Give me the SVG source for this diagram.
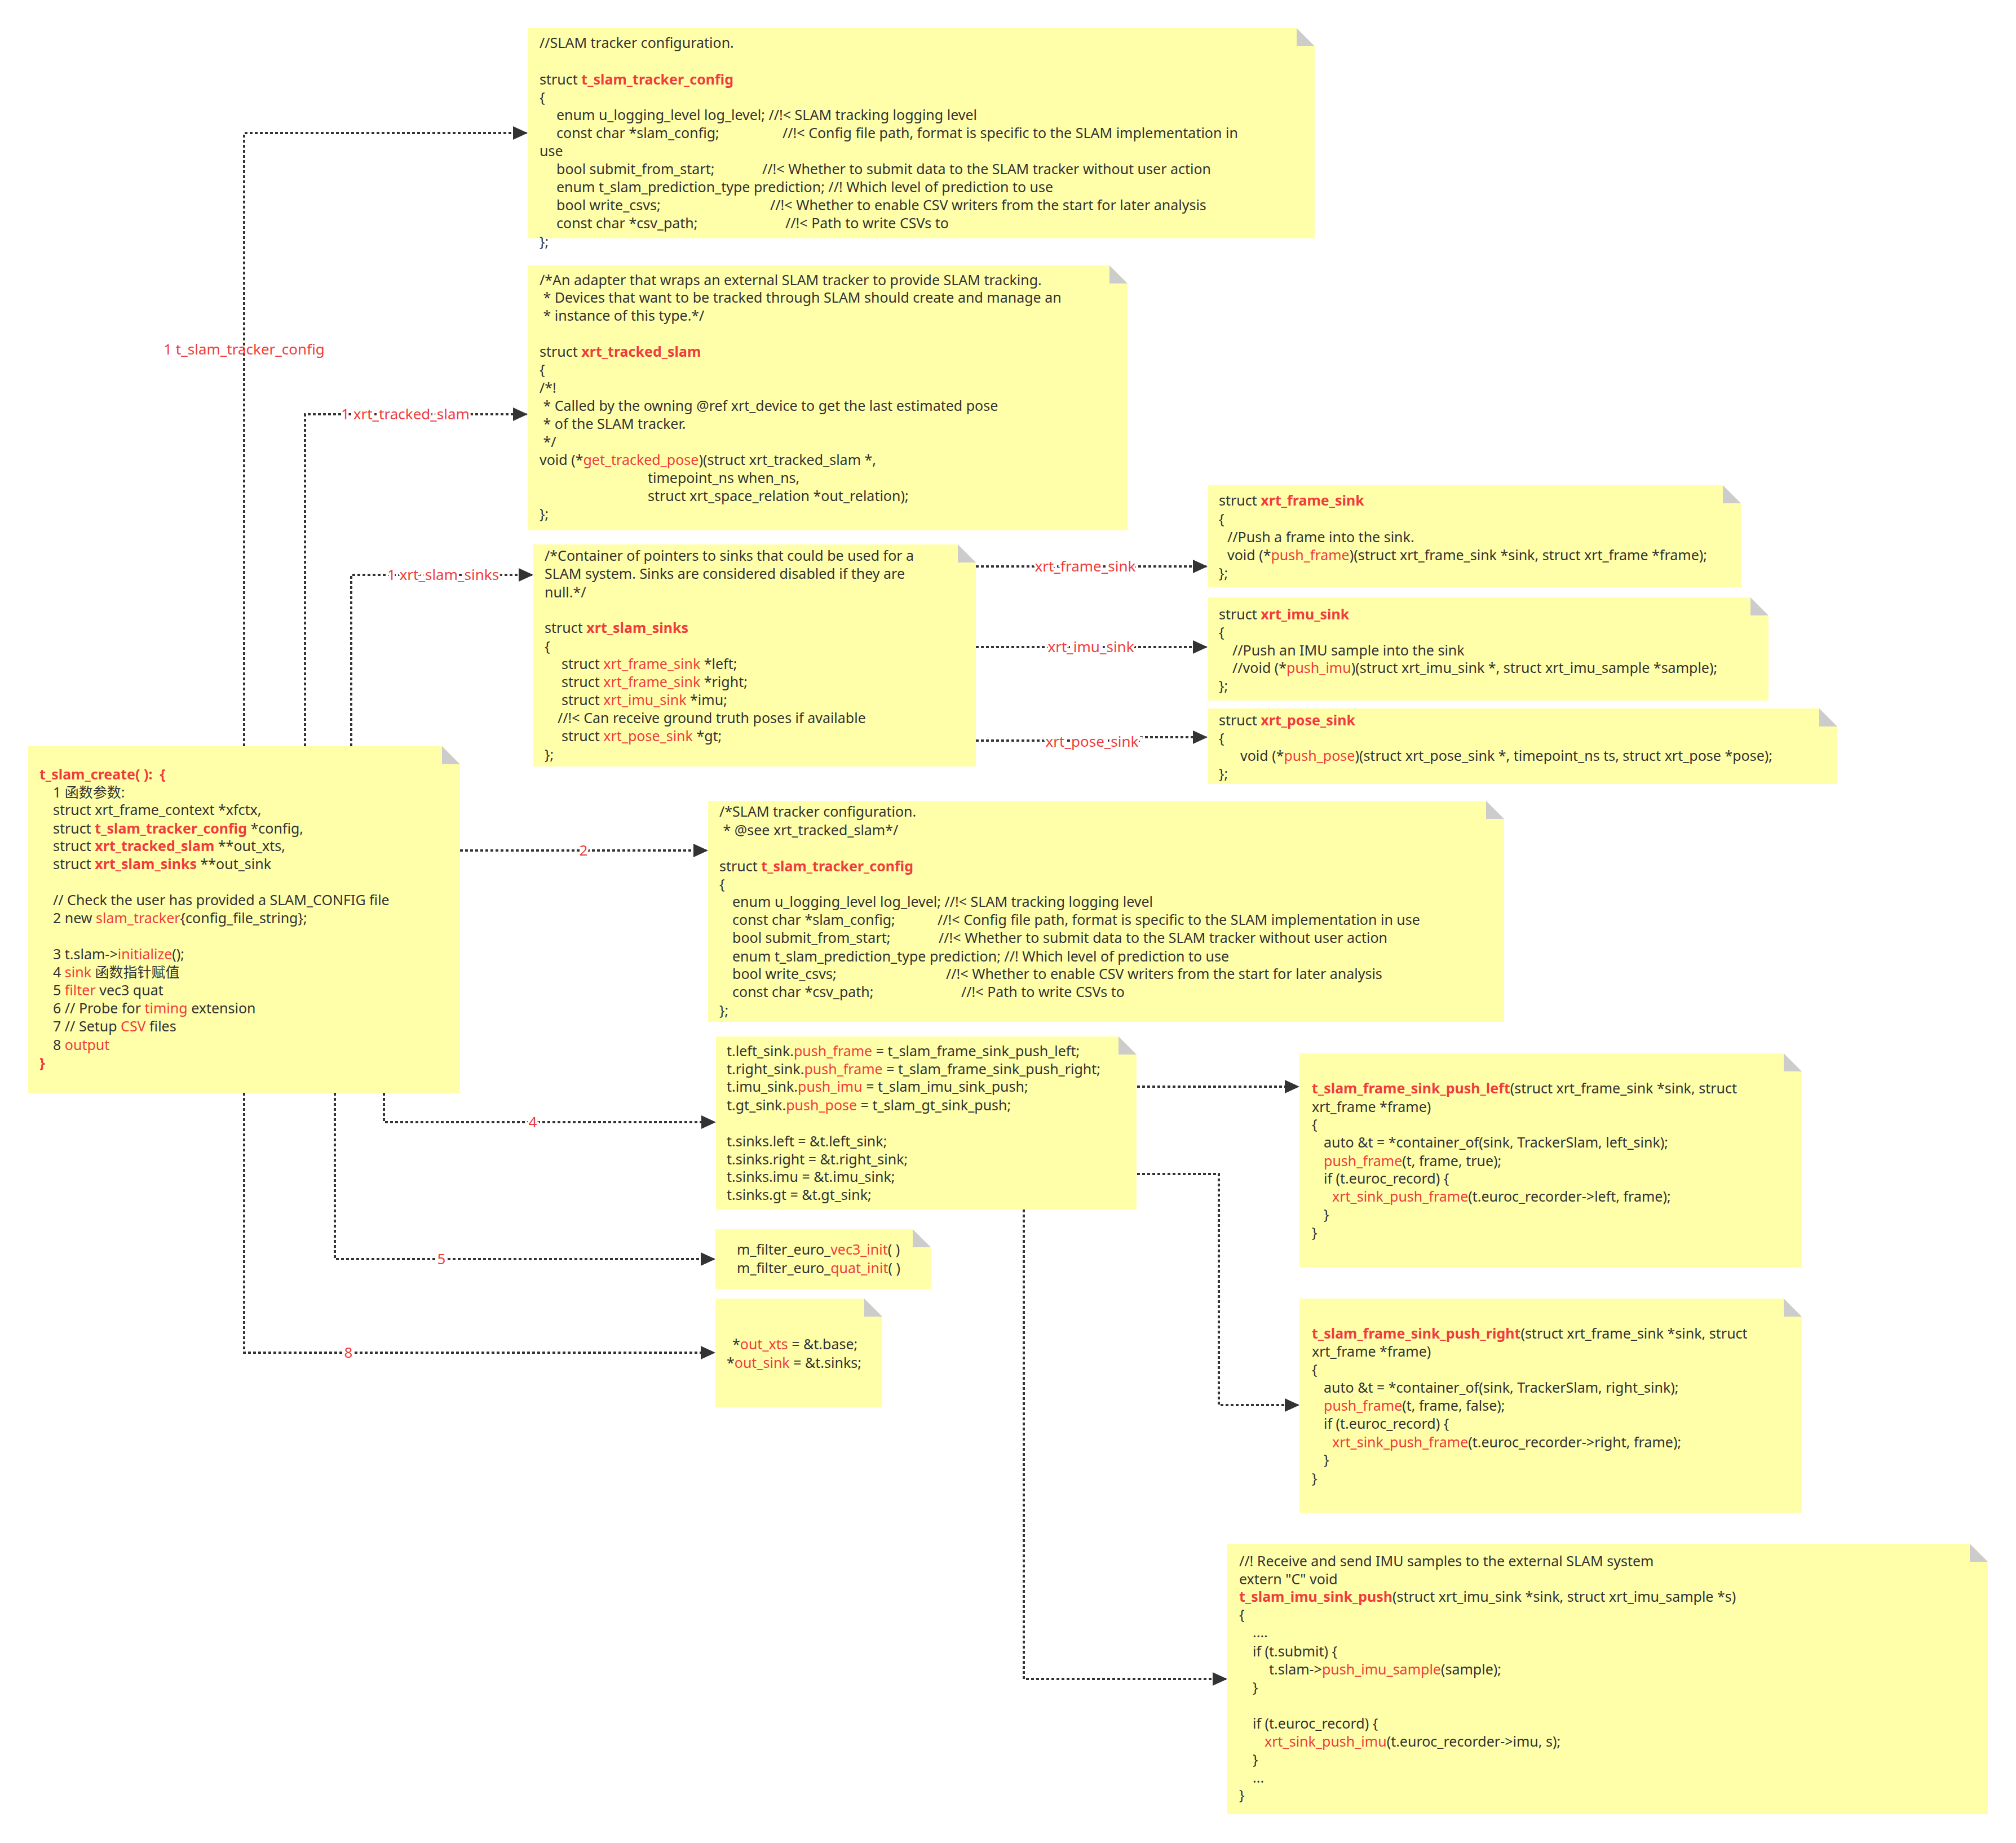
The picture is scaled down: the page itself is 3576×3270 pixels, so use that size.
<svg xmlns="http://www.w3.org/2000/svg" width="3576" height="3270" viewBox="0 0 3576 3270">
<style>
text{font-family:"Noto Sans","Noto Sans CJK SC",sans-serif;font-size:25px;fill:#333;white-space:pre}
.r{fill:#f03c3c}
.b{fill:#f03c3c;font-weight:bold}
.note{fill:#ffffaa}
.fold{fill:#cccccc}
.c{fill:none;stroke:#333;stroke-width:4;stroke-dasharray:5,4}
.lbl{fill:#f03c3c;font-size:26px;text-anchor:middle;paint-order:stroke;stroke:#fff;stroke-width:8px}
.lbl2{fill:#f03c3c;font-size:26px;text-anchor:middle}
</style>
<defs>
<marker id="ah" markerWidth="26" markerHeight="24" refX="24" refY="12" orient="auto" markerUnits="userSpaceOnUse"><path d="M0,0 L26,12 L0,24 z" fill="#333"/></marker>
</defs>
<rect width="3576" height="3270" fill="#fff"/>

<g id="connectors">
<path class="c" d="M433,1324 V236 H934" marker-end="url(#ah)"/>
<path class="c" d="M541,1324 V735 H934" marker-end="url(#ah)"/>
<path class="c" d="M623,1324 V1020 H944" marker-end="url(#ah)"/>
<path class="c" d="M816,1509 H1254" marker-end="url(#ah)"/>
<path class="c" d="M681,1939 V1991 H1268" marker-end="url(#ah)"/>
<path class="c" d="M594,1939 V2234 H1267" marker-end="url(#ah)"/>
<path class="c" d="M433,1939 V2400 H1267" marker-end="url(#ah)"/>
<path class="c" d="M1731,1005 H2140" marker-end="url(#ah)"/>
<path class="c" d="M1731,1148 H2140" marker-end="url(#ah)"/>
<path class="c" d="M1731,1314 H2020 V1308 H2140" marker-end="url(#ah)"/>
<path class="c" d="M2017,1928 H2303" marker-end="url(#ah)"/>
<path class="c" d="M2017,2083 H2162 V2493 H2303" marker-end="url(#ah)"/>
<path class="c" d="M1816,2146 V2979 H2175" marker-end="url(#ah)"/>
<text class="lbl2" x="433" y="629">1 t_slam_tracker_config</text>
<text class="lbl" x="719" y="744">1 xrt_tracked_slam</text>
<text class="lbl" x="786" y="1029">1 xrt_slam_sinks</text>
<text class="lbl" x="1035" y="1518">2</text>
<text class="lbl" x="945" y="2000">4</text>
<text class="lbl" x="783" y="2243">5</text>
<text class="lbl" x="618" y="2409">8</text>
<text class="lbl" x="1925" y="1014">xrt_frame_sink</text>
<text class="lbl" x="1935" y="1157">xrt_imu_sink</text>
<text class="lbl" x="1937" y="1325">xrt_pose_sink</text>
</g>

<g id="t_slam_create">
<path class="note" d="M50,1324 H784 L816,1356 V1939 H50 z"/><path class="fold" d="M784,1324 L816,1356 H784 z"/>
<text x="70" y="1383" class="b">t_slam_create( ):  {</text>
<text x="94" y="1415">1 函数参数:</text>
<text x="94" y="1446">struct xrt_frame_context *xfctx,</text>
<text x="94" y="1479">struct <tspan class="b">t_slam_tracker_config</tspan> *config,</text>
<text x="94" y="1510">struct <tspan class="b">xrt_tracked_slam</tspan> **out_xts,</text>
<text x="94" y="1542">struct <tspan class="b">xrt_slam_sinks</tspan> **out_sink</text>
<text x="94" y="1606">// Check the user has provided a SLAM_CONFIG file</text>
<text x="94" y="1638">2 new <tspan class="r">slam_tracker</tspan>{config_file_string};</text>
<text x="94" y="1702">3 t.slam-&gt;<tspan class="r">initialize</tspan>();</text>
<text x="94" y="1734">4 <tspan class="r">sink</tspan> 函数指针赋值</text>
<text x="94" y="1766">5 <tspan class="r">filter</tspan> vec3 quat</text>
<text x="94" y="1798">6 // Probe for <tspan class="r">timing</tspan> extension</text>
<text x="94" y="1830">7 // Setup <tspan class="r">CSV</tspan> files</text>
<text x="94" y="1863">8 <tspan class="r">output</tspan></text>
<text x="70" y="1895" class="b">}</text>
</g>

<g id="tracker_config_1">
<path class="note" d="M936,50 H2300 L2332,82 V423 H936 z"/><path class="fold" d="M2300,50 L2332,82 H2300 z"/>
<text x="957" y="85">//SLAM tracker configuration.</text>
<text x="957" y="150">struct <tspan class="b">t_slam_tracker_config</tspan></text>
<text x="957" y="182">{</text>
<text x="987" y="213">enum u_logging_level log_level; //!&lt; SLAM tracking logging level</text>
<text x="987" y="245">const char *slam_config;<tspan x="1388">//!&lt; Config file path, format is specific to the SLAM implementation in</tspan></text>
<text x="957" y="277">use</text>
<text x="987" y="309">bool submit_from_start;<tspan x="1352">//!&lt; Whether to submit data to the SLAM tracker without user action</tspan></text>
<text x="987" y="341">enum t_slam_prediction_type prediction; //! Which level of prediction to use</text>
<text x="987" y="373">bool write_csvs;<tspan x="1366">//!&lt; Whether to enable CSV writers from the start for later analysis</tspan></text>
<text x="987" y="405">const char *csv_path;<tspan x="1393">//!&lt; Path to write CSVs to</tspan></text>
<text x="957" y="438">};</text>
</g>

<g id="xrt_tracked_slam">
<path class="note" d="M936,471 H1968 L2000,503 V941 H936 z"/><path class="fold" d="M1968,471 L2000,503 H1968 z"/>
<text x="957" y="506">/*An adapter that wraps an external SLAM tracker to provide SLAM tracking.</text>
<text x="957" y="537"> * Devices that want to be tracked through SLAM should create and manage an</text>
<text x="957" y="569"> * instance of this type.*/</text>
<text x="957" y="633">struct <tspan class="b">xrt_tracked_slam</tspan></text>
<text x="957" y="665">{</text>
<text x="957" y="697">/*!</text>
<text x="957" y="729"> * Called by the owning @ref xrt_device to get the last estimated pose</text>
<text x="957" y="761"> * of the SLAM tracker.</text>
<text x="957" y="793"> */</text>
<text x="957" y="825">void (*<tspan class="r">get_tracked_pose</tspan>)(struct xrt_tracked_slam *,</text>
<text x="1149" y="857">timepoint_ns when_ns,</text>
<text x="1149" y="889">struct xrt_space_relation *out_relation);</text>
<text x="957" y="921">};</text>
</g>

<g id="xrt_slam_sinks">
<path class="note" d="M946,966 H1699 L1731,998 V1360 H946 z"/><path class="fold" d="M1699,966 L1731,998 H1699 z"/>
<text x="966" y="995">/*Container of pointers to sinks that could be used for a</text>
<text x="966" y="1027">SLAM system. Sinks are considered disabled if they are</text>
<text x="966" y="1060">null.*/</text>
<text x="966" y="1123">struct <tspan class="b">xrt_slam_sinks</tspan></text>
<text x="966" y="1156">{</text>
<text x="996" y="1187">struct <tspan class="r">xrt_frame_sink</tspan> *left;</text>
<text x="996" y="1219">struct <tspan class="r">xrt_frame_sink</tspan> *right;</text>
<text x="996" y="1251">struct <tspan class="r">xrt_imu_sink</tspan> *imu;</text>
<text x="989" y="1283">//!&lt; Can receive ground truth poses if available</text>
<text x="996" y="1315">struct <tspan class="r">xrt_pose_sink</tspan> *gt;</text>
<text x="966" y="1348">};</text>
</g>

<g id="xrt_frame_sink">
<path class="note" d="M2142,861 H3056 L3088,893 V1042 H2142 z"/><path class="fold" d="M3056,861 L3088,893 H3056 z"/>
<text x="2162" y="897">struct <tspan class="b">xrt_frame_sink</tspan></text>
<text x="2162" y="930">{</text>
<text x="2177" y="962">//Push a frame into the sink.</text>
<text x="2177" y="994">void (*<tspan class="r">push_frame</tspan>)(struct xrt_frame_sink *sink, struct xrt_frame *frame);</text>
<text x="2162" y="1026">};</text>
</g>

<g id="xrt_imu_sink">
<path class="note" d="M2142,1060 H3105 L3137,1092 V1243 H2142 z"/><path class="fold" d="M3105,1060 L3137,1092 H3105 z"/>
<text x="2162" y="1099">struct <tspan class="b">xrt_imu_sink</tspan></text>
<text x="2162" y="1131">{</text>
<text x="2186" y="1163">//Push an IMU sample into the sink</text>
<text x="2186" y="1194">//void (*<tspan class="r">push_imu</tspan>)(struct xrt_imu_sink *, struct xrt_imu_sample *sample);</text>
<text x="2162" y="1226">};</text>
</g>

<g id="xrt_pose_sink">
<path class="note" d="M2142,1257 H3227 L3259,1289 V1391 H2142 z"/><path class="fold" d="M3227,1257 L3259,1289 H3227 z"/>
<text x="2162" y="1287">struct <tspan class="b">xrt_pose_sink</tspan></text>
<text x="2162" y="1319">{</text>
<text x="2200" y="1350">void (*<tspan class="r">push_pose</tspan>)(struct xrt_pose_sink *, timepoint_ns ts, struct xrt_pose *pose);</text>
<text x="2162" y="1382">};</text>
</g>

<g id="tracker_config_2">
<path class="note" d="M1256,1421 H2636 L2668,1453 V1813 H1256 z"/><path class="fold" d="M2636,1421 L2668,1453 H2636 z"/>
<text x="1276" y="1449">/*SLAM tracker configuration.</text>
<text x="1276" y="1482"> * @see xrt_tracked_slam*/</text>
<text x="1276" y="1546">struct <tspan class="b">t_slam_tracker_config</tspan></text>
<text x="1276" y="1578">{</text>
<text x="1299" y="1609">enum u_logging_level log_level; //!&lt; SLAM tracking logging level</text>
<text x="1299" y="1641">const char *slam_config;<tspan x="1663">//!&lt; Config file path, format is specific to the SLAM implementation in use</tspan></text>
<text x="1299" y="1673">bool submit_from_start;<tspan x="1665">//!&lt; Whether to submit data to the SLAM tracker without user action</tspan></text>
<text x="1299" y="1706">enum t_slam_prediction_type prediction; //! Which level of prediction to use</text>
<text x="1299" y="1737">bool write_csvs;<tspan x="1678">//!&lt; Whether to enable CSV writers from the start for later analysis</tspan></text>
<text x="1299" y="1769">const char *csv_path;<tspan x="1705">//!&lt; Path to write CSVs to</tspan></text>
<text x="1276" y="1802">};</text>
</g>

<g id="sink_assign">
<path class="note" d="M1270,1839 H1984 L2016,1871 V2146 H1270 z"/><path class="fold" d="M1984,1839 L2016,1871 H1984 z"/>
<text x="1289" y="1874">t.left_sink.<tspan class="r">push_frame</tspan> = t_slam_frame_sink_push_left;</text>
<text x="1289" y="1906">t.right_sink.<tspan class="r">push_frame</tspan> = t_slam_frame_sink_push_right;</text>
<text x="1289" y="1937">t.imu_sink.<tspan class="r">push_imu</tspan> = t_slam_imu_sink_push;</text>
<text x="1289" y="1970">t.gt_sink.<tspan class="r">push_pose</tspan> = t_slam_gt_sink_push;</text>
<text x="1289" y="2034">t.sinks.left = &amp;t.left_sink;</text>
<text x="1289" y="2066">t.sinks.right = &amp;t.right_sink;</text>
<text x="1289" y="2097">t.sinks.imu = &amp;t.imu_sink;</text>
<text x="1289" y="2129">t.sinks.gt = &amp;t.gt_sink;</text>
</g>

<g id="filter">
<path class="note" d="M1269,2181 H1619 L1651,2213 V2287 H1269 z"/><path class="fold" d="M1619,2181 L1651,2213 H1619 z"/>
<text x="1307" y="2226">m_filter_euro_<tspan class="r">vec3_init</tspan>( )</text>
<text x="1307" y="2259">m_filter_euro_<tspan class="r">quat_init</tspan>( )</text>
</g>

<g id="output">
<path class="note" d="M1269,2304 H1533 L1565,2336 V2497 H1269 z"/><path class="fold" d="M1533,2304 L1565,2336 H1533 z"/>
<text x="1299" y="2394">*<tspan class="r">out_xts</tspan> = &amp;t.base;</text>
<text x="1289" y="2427">*<tspan class="r">out_sink</tspan> = &amp;t.sinks;</text>
</g>

<g id="push_left">
<path class="note" d="M2305,1869 H3164 L3196,1901 V2249 H2305 z"/><path class="fold" d="M3164,1869 L3196,1901 H3164 z"/>
<text x="2327" y="1940"><tspan class="b">t_slam_frame_sink_push_left</tspan>(struct xrt_frame_sink *sink, struct</text>
<text x="2327" y="1973">xrt_frame *frame)</text>
<text x="2327" y="2004">{</text>
<text x="2348" y="2036">auto &amp;t = *container_of(sink, TrackerSlam, left_sink);</text>
<text x="2348" y="2069"><tspan class="r">push_frame</tspan>(t, frame, true);</text>
<text x="2348" y="2100">if (t.euroc_record) {</text>
<text x="2363" y="2132"><tspan class="r">xrt_sink_push_frame</tspan>(t.euroc_recorder-&gt;left, frame);</text>
<text x="2348" y="2164">}</text>
<text x="2327" y="2196">}</text>
</g>

<g id="push_right">
<path class="note" d="M2305,2304 H3164 L3196,2336 V2684 H2305 z"/><path class="fold" d="M3164,2304 L3196,2336 H3164 z"/>
<text x="2327" y="2375"><tspan class="b">t_slam_frame_sink_push_right</tspan>(struct xrt_frame_sink *sink, struct</text>
<text x="2327" y="2407">xrt_frame *frame)</text>
<text x="2327" y="2439">{</text>
<text x="2348" y="2471">auto &amp;t = *container_of(sink, TrackerSlam, right_sink);</text>
<text x="2348" y="2503"><tspan class="r">push_frame</tspan>(t, frame, false);</text>
<text x="2348" y="2535">if (t.euroc_record) {</text>
<text x="2363" y="2568"><tspan class="r">xrt_sink_push_frame</tspan>(t.euroc_recorder-&gt;right, frame);</text>
<text x="2348" y="2599">}</text>
<text x="2327" y="2632">}</text>
</g>

<g id="imu_push">
<path class="note" d="M2177,2739 H3494 L3526,2771 V3219 H2177 z"/><path class="fold" d="M3494,2739 L3526,2771 H3494 z"/>
<text x="2198" y="2779">//! Receive and send IMU samples to the external SLAM system</text>
<text x="2198" y="2811">extern "C" void</text>
<text x="2198" y="2842"><tspan class="b">t_slam_imu_sink_push</tspan>(struct xrt_imu_sink *sink, struct xrt_imu_sample *s)</text>
<text x="2198" y="2874">{</text>
<text x="2222" y="2905">....</text>
<text x="2222" y="2939">if (t.submit) {</text>
<text x="2251" y="2971">t.slam-&gt;<tspan class="r">push_imu_sample</tspan>(sample);</text>
<text x="2222" y="3003">}</text>
<text x="2222" y="3067">if (t.euroc_record) {</text>
<text x="2243" y="3099"><tspan class="r">xrt_sink_push_imu</tspan>(t.euroc_recorder-&gt;imu, s);</text>
<text x="2222" y="3131">}</text>
<text x="2222" y="3163">...</text>
<text x="2198" y="3194">}</text>
</g>
</svg>
